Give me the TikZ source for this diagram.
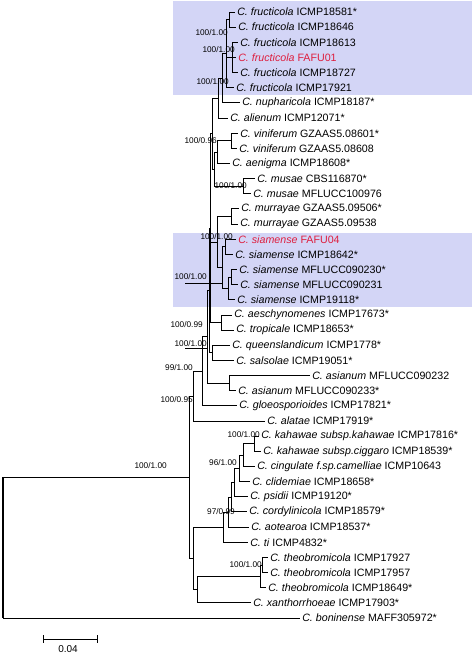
\documentclass[tikz,border=0pt]{standalone}
\usepackage{fontspec}
\setmainfont{Liberation Sans}
\usetikzlibrary{positioning}
\definecolor{cladebox}{RGB}{211,213,246}
\definecolor{fafured}{RGB}{222,30,62}

\begin{document}
\begin{tikzpicture}[x=0.75pt,y=-0.75pt]
\tikzstyle{every node}+=[inner sep=0pt]
\tikzstyle{taxon}=[anchor=west,inner xsep=1.5pt,font=\fontsize{8}{9}\selectfont]
\tikzstyle{boot}=[anchor=east,font=\fontsize{6.2}{7}\selectfont]
\tikzstyle{branch}=[black,line width=0.7pt]
\useasboundingbox (0,0) rectangle (474,653);
\fill [cladebox] (173,1) rectangle (472,95);
\fill [cladebox] (173,233) rectangle (472,307);
\node [taxon] (fru1) at (235,12) {\textit{C. fructicola} ICMP18581*};
\node [taxon] (fru2) at (236,27.15) {\textit{C. fructicola} ICMP18646};
\node [taxon] (fru3) at (238,42.3) {\textit{C. fructicola} ICMP18613};
\node [taxon,text=fafured] (fru4) at (236,57.45) {\textit{C. fructicola} FAFU01};
\node [taxon] (fru5) at (238,72.6) {\textit{C. fructicola} ICMP18727};
\node [taxon] (fru6) at (234,87.75) {\textit{C. fructicola} ICMP17921};
\node [taxon] (nup) at (240,102.9) {\textit{C. nupharicola} ICMP18187*};
\node [taxon] (ali) at (228,118.05) {\textit{C. alienum} ICMP12071*};
\node [taxon] (vin1) at (238,133.2) {\textit{C. viniferum} GZAAS5.08601*};
\node [taxon] (vin2) at (237,148.35) {\textit{C. viniferum} GZAAS5.08608};
\node [taxon] (aen) at (230,163.5) {\textit{C. aenigma} ICMP18608*};
\node [taxon] (mus1) at (255,178.65) {\textit{C. musae} CBS116870*};
\node [taxon] (mus2) at (251,193.8) {\textit{C. musae} MFLUCC100976};
\node [taxon] (mur1) at (239,208.95) {\textit{C. murrayae} GZAAS5.09506*};
\node [taxon] (mur2) at (238,224.1) {\textit{C. murrayae} GZAAS5.09538};
\node [taxon,text=fafured] (sia1) at (236,239.25) {\textit{C. siamense} FAFU04};
\node [taxon] (sia2) at (233,254.4) {\textit{C. siamense} ICMP18642*};
\node [taxon] (sia3) at (237,269.55) {\textit{C. siamense} MFLUCC090230*};
\node [taxon] (sia4) at (238,284.7) {\textit{C. siamense} MFLUCC090231};
\node [taxon] (sia5) at (235,299.85) {\textit{C. siamense} ICMP19118*};
\node [taxon] (aes) at (232,315) {\textit{C. aeschynomenes} ICMP17673*};
\node [taxon] (tro) at (234,330.15) {\textit{C. tropicale} ICMP18653*};
\node [taxon] (que) at (230,345.3) {\textit{C. queenslandicum} ICMP1778*};
\node [taxon] (sal) at (234,360.45) {\textit{C. salsolae} ICMP19051*};
\node [taxon] (asi1) at (310,375.6) {\textit{C. asianum} MFLUCC090232};
\node [taxon] (asi2) at (236,390.75) {\textit{C. asianum} MFLUCC090233*};
\node [taxon] (glo) at (237,405.9) {\textit{C. gloeosporioides} ICMP17821*};
\node [taxon] (ala) at (265,421.05) {\textit{C. alatae} ICMP17919*};
\node [taxon] (kah1) at (259,436.2) {\textit{C. kahawae subsp.kahawae} ICMP17816*};
\node [taxon] (kah2) at (261,451.35) {\textit{C. kahawae subsp.ciggaro} ICMP18539*};
\node [taxon] (cin) at (255,466.5) {\textit{C. cingulate f.sp.camelliae} ICMP10643};
\node [taxon] (cli) at (250,481.65) {\textit{C. clidemiae} ICMP18658*};
\node [taxon] (psi) at (248,496.8) {\textit{C. psidii} ICMP19120*};
\node [taxon] (cor) at (247,511.95) {\textit{C. cordylinicola} ICMP18579*};
\node [taxon] (aot) at (249,527.1) {\textit{C. aotearoa} ICMP18537*};
\node [taxon] (tii) at (248,542.25) {\textit{C. ti} ICMP4832*};
\node [taxon] (the1) at (268,557.4) {\textit{C. theobromicola} ICMP17927};
\node [taxon] (the2) at (268,572.55) {\textit{C. theobromicola} ICMP17957};
\node [taxon] (the3) at (266,587.7) {\textit{C. theobromicola} ICMP18649*};
\node [taxon] (xan) at (251,602.85) {\textit{C. xanthorrhoeae} ICMP17903*};
\node [taxon] (bon) at (300,618) {\textit{C. boninense} MAFF305972*};
\coordinate (fru12) at (229,19.6);
\coordinate (fru345) at (232,57.45);
\coordinate (fru) at (226,53.7);
\coordinate (frunup) at (222,78.3);
\coordinate (fruali) at (218,98.2);
\coordinate (vin) at (231,140.8);
\coordinate (vinaen) at (217,152.1);
\coordinate (mus) at (243,186.2);
\coordinate (vinmus) at (214,169.2);
\coordinate (upper) at (212,133.7);
\coordinate (mur) at (231,216.5);
\coordinate (sia12) at (225,246.8);
\coordinate (sia34) at (231,277.1);
\coordinate (sia345) at (228,288.5);
\coordinate (sia) at (222,267.6);
\coordinate (mursia) at (217,242.1);
\coordinate (aestro) at (221,322.6);
\coordinate (mid) at (210,228.2);
\coordinate (quesal) at (212,352.9);
\coordinate (musclade) at (209,290.5);
\coordinate (asi) at (229,383.2);
\coordinate (gloA) at (207,336.9);
\coordinate (gloB) at (202,371.4);
\coordinate (gloC) at (193,396.2);
\coordinate (kah) at (254,443.8);
\coordinate (kahcin) at (243,455.1);
\coordinate (kahcli) at (239,468.4);
\coordinate (kahpsi) at (234,482.6);
\coordinate (kahcor) at (231,497.3);
\coordinate (kahaot) at (228,512.2);
\coordinate (kahti) at (223,527.2);
\coordinate (the12) at (262,565);
\coordinate (the) at (260,576.2);
\coordinate (thexan) at (197,589.5);
\coordinate (kahclade) at (193,558.4);
\coordinate (ingroup) at (189,477.3);
\coordinate (root) at (3,547.6);
\coordinate (stray1) at (185,283);
\coordinate (stray2) at (185,348);
\draw [branch] (fru12) |- (fru1.west);
\draw [branch] (fru12) |- (fru2.west);
\draw [branch] (fru345) |- (fru3.west);
\draw [branch] (fru345) |- (fru4.west);
\draw [branch] (fru345) |- (fru5.west);
\draw [branch] (fru) |- (fru12);
\draw [branch] (fru) |- (fru345);
\draw [branch] (fru) |- (fru6.west);
\draw [branch] (frunup) |- (fru);
\draw [branch] (frunup) |- (nup.west);
\draw [branch] (fruali) |- (frunup);
\draw [branch] (fruali) |- (ali.west);
\draw [branch] (vin) |- (vin1.west);
\draw [branch] (vin) |- (vin2.west);
\draw [branch] (vinaen) |- (vin);
\draw [branch] (vinaen) |- (aen.west);
\draw [branch] (mus) |- (mus1.west);
\draw [branch] (mus) |- (mus2.west);
\draw [branch] (vinmus) |- (vinaen);
\draw [branch] (vinmus) |- (mus);
\draw [branch] (upper) |- (fruali);
\draw [branch] (upper) |- (vinmus);
\draw [branch] (mur) |- (mur1.west);
\draw [branch] (mur) |- (mur2.west);
\draw [branch] (sia12) |- (sia1.west);
\draw [branch] (sia12) |- (sia2.west);
\draw [branch] (sia34) |- (sia3.west);
\draw [branch] (sia34) |- (sia4.west);
\draw [branch] (sia345) |- (sia34);
\draw [branch] (sia345) |- (sia5.west);
\draw [branch] (sia) |- (sia12);
\draw [branch] (sia) |- (sia345);
\draw [branch] (mursia) |- (mur);
\draw [branch] (mursia) |- (sia);
\draw [branch] (aestro) |- (aes.west);
\draw [branch] (aestro) |- (tro.west);
\draw [branch] (mid) |- (upper);
\draw [branch] (mid) |- (mursia);
\draw [branch] (mid) |- (aestro);
\draw [branch] (quesal) |- (que.west);
\draw [branch] (quesal) |- (sal.west);
\draw [branch] (musclade) |- (mid);
\draw [branch] (musclade) |- (quesal);
\draw [branch] (asi) |- (asi1.west);
\draw [branch] (asi) |- (asi2.west);
\draw [branch] (gloA) |- (musclade);
\draw [branch] (gloA) |- (asi);
\draw [branch] (gloB) |- (gloA);
\draw [branch] (gloB) |- (glo.west);
\draw [branch] (gloC) |- (gloB);
\draw [branch] (gloC) |- (ala.west);
\draw [branch] (kah) |- (kah1.west);
\draw [branch] (kah) |- (kah2.west);
\draw [branch] (kahcin) |- (kah);
\draw [branch] (kahcin) |- (cin.west);
\draw [branch] (kahcli) |- (kahcin);
\draw [branch] (kahcli) |- (cli.west);
\draw [branch] (kahpsi) |- (kahcli);
\draw [branch] (kahpsi) |- (psi.west);
\draw [branch] (kahcor) |- (kahpsi);
\draw [branch] (kahcor) |- (cor.west);
\draw [branch] (kahaot) |- (kahcor);
\draw [branch] (kahaot) |- (aot.west);
\draw [branch] (kahti) |- (kahaot);
\draw [branch] (kahti) |- (tii.west);
\draw [branch] (the12) |- (the1.west);
\draw [branch] (the12) |- (the2.west);
\draw [branch] (the) |- (the12);
\draw [branch] (the) |- (the3.west);
\draw [branch] (thexan) |- (the);
\draw [branch] (thexan) |- (xan.west);
\draw [branch] (kahclade) |- (kahti);
\draw [branch] (kahclade) |- (thexan);
\draw [branch] (ingroup) |- (gloC);
\draw [branch] (ingroup) |- (kahclade);
\draw [branch] (root) |- (ingroup);
\draw [branch] (root) |- (bon.west);
\draw [black,line width=1.3pt] (root |- ingroup) -- (root |- bon);
\draw [branch] (stray1) -- (stray1 -| sia);
\draw [branch] (stray2) -- (stray2 -| gloA);
\node [boot] (bs1) at (228,33) {100/1.00};
\node [boot] (bs2) at (235,50) {100/1.00};
\node [boot] (bs3) at (229,82) {100/1.00};
\node [boot] (bs4) at (217,141) {100/0.96};
\node [boot] (bs5) at (247,186) {100/1.00};
\node [boot] (bs6) at (233,237) {100/1.00};
\node [boot] (bs7) at (207,277) {100/1.00};
\node [boot] (bs8) at (203,325) {100/0.99};
\node [boot] (bs9) at (207,344) {100/1.00};
\node [boot] (bs10) at (193,368) {99/1.00};
\node [boot] (bs11) at (193,400) {100/0.95};
\node [boot] (bs12) at (167,466) {100/1.00};
\node [boot] (bs13) at (260,435) {100/1.00};
\node [boot] (bs14) at (237,463) {96/1.00};
\node [boot] (bs15) at (235,512) {97/0.99};
\node [boot] (bs16) at (262,565) {100/1.00};
\coordinate (barL) at (43,639);
\coordinate (barR) at (97,639);
\draw [branch] (barL) -- (barR);
\draw [branch] (43,635) -- (43,643);
\draw [branch] (97,635) -- (97,643);
\node [font=\fontsize{7.5}{8}\selectfont] (barlabel) at (68,649) {0.04};
\end{tikzpicture}
\end{document}
